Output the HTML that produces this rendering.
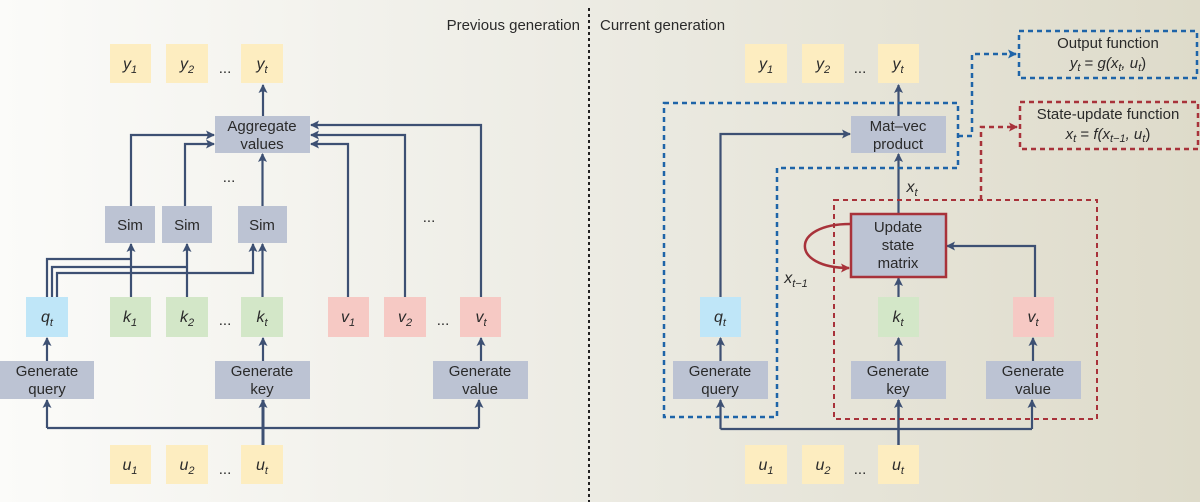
<!DOCTYPE html>
<html><head><meta charset="utf-8"><style>
html,body{margin:0;padding:0;}
body{width:1200px;height:502px;overflow:hidden;}
svg{display:block;}
text{font-family:"Liberation Sans",sans-serif;fill:#2a2a2a;}
.l{font-size:15px;text-anchor:middle;}
.i{font-style:italic;font-size:16px;text-anchor:middle;}
.s{font-size:11px;}
</style></head><body>
<svg width="1200" height="502" viewBox="0 0 1200 502" xmlns="http://www.w3.org/2000/svg">
<defs>
<linearGradient id="bg" x1="0" x2="1" y1="0" y2="0">
<stop offset="0" stop-color="#fbfbf9"/><stop offset="0.5" stop-color="#ecebe3"/><stop offset="1" stop-color="#dedbca"/>
</linearGradient>
<marker id="a" markerWidth="9" markerHeight="9" refX="8" refY="4.5" orient="auto" markerUnits="userSpaceOnUse"><path d="M0,0 L9,4.5 L0,9 L2,4.5 z" fill="#3d5073"/></marker>
<marker id="ar" markerWidth="9" markerHeight="9" refX="8" refY="4.5" orient="auto" markerUnits="userSpaceOnUse"><path d="M0,0 L9,4.5 L0,9 L2,4.5 z" fill="#a8323a"/></marker>
<marker id="ab" markerWidth="9" markerHeight="9" refX="8" refY="4.5" orient="auto" markerUnits="userSpaceOnUse"><path d="M0,0 L9,4.5 L0,9 L2,4.5 z" fill="#1e64a8"/></marker>
</defs>
<rect width="1200" height="502" fill="url(#bg)"/>
<line x1="589" y1="8" x2="589" y2="502" stroke="#222" stroke-width="2" stroke-dasharray="3,3"/>
<text x="580" y="30" style="font-size:15px;text-anchor:end">Previous generation</text>
<text x="600" y="30" style="font-size:15px">Current generation</text>

<g fill="#fdedc0">
<rect x="110" y="44" width="41" height="39"/><rect x="166" y="44" width="42" height="39"/><rect x="241" y="44" width="42" height="39"/>
<rect x="110" y="445" width="41" height="39"/><rect x="166" y="445" width="42" height="39"/><rect x="241" y="445" width="42" height="39"/>
<rect x="745" y="44" width="42" height="39"/><rect x="802" y="44" width="42" height="39"/><rect x="878" y="44" width="41" height="39"/>
<rect x="745" y="445" width="42" height="39"/><rect x="802" y="445" width="42" height="39"/><rect x="878" y="445" width="41" height="39"/>
</g>
<g fill="#bcc3d3">
<rect x="215" y="116" width="95" height="37"/>
<rect x="105" y="206" width="50" height="37"/><rect x="162" y="206" width="50" height="37"/><rect x="238" y="206" width="49" height="37"/>
<rect x="0" y="361" width="94" height="38"/><rect x="215" y="361" width="95" height="38"/><rect x="433" y="361" width="95" height="38"/>
<rect x="851" y="116" width="95" height="37"/>
<rect x="673" y="361" width="95" height="38"/><rect x="851" y="361" width="95" height="38"/><rect x="986" y="361" width="95" height="38"/>
</g>
<rect x="26" y="297" width="42" height="40" fill="#bfe6f8"/>
<rect x="700" y="297" width="41" height="40" fill="#bfe6f8"/>
<g fill="#d3e7c8"><rect x="110" y="297" width="41" height="40"/><rect x="166" y="297" width="42" height="40"/><rect x="241" y="297" width="42" height="40"/><rect x="878" y="297" width="41" height="40"/></g>
<g fill="#f6c9c4"><rect x="328" y="297" width="41" height="40"/><rect x="384" y="297" width="42" height="40"/><rect x="460" y="297" width="41" height="40"/><rect x="1013" y="297" width="41" height="40"/></g>

<g stroke="#3d5073" stroke-width="2.2" fill="none" marker-end="url(#a)">
<path d="M263 116 V85"/>
<path d="M131 206 V135 H214"/>
<path d="M185 206 V144 H214"/>
<path d="M262.5 206 V154"/>
<path d="M348 297 V144 H311"/>
<path d="M405 297 V135 H311"/>
<path d="M481 297 V125 H311"/>
<path d="M131 297 V244"/>
<path d="M187 297 V244"/>
<path d="M262.5 297 V244"/>
<path d="M47 297 V259 H131" marker-end="none"/>
<path d="M52 297 V267 H187" marker-end="none"/>
<path d="M57 297 V273 H253 V244"/>
<path d="M47 361 V338"/>
<path d="M263 361 V338"/>
<path d="M481 361 V338"/>
<path d="M47 428 H479" marker-end="none"/>
<path d="M47 428 V400"/>
<path d="M479 428 V400"/>
<path d="M263 445 V400" stroke-width="3"/>
<path d="M898.5 116 V85"/>
<path d="M898.5 213 V154"/>
<path d="M898.5 297 V278"/>
<path d="M720.5 297 V134 H850"/>
<path d="M1035 297 V246 H947"/>
<path d="M720.5 361 V338"/>
<path d="M898.5 361 V338"/>
<path d="M1033 361 V338"/>
<path d="M720.5 429 H1032" marker-end="none"/>
<path d="M720.5 429 V400"/>
<path d="M1032 429 V400"/>
<path d="M898.5 445 V400" stroke-width="2.5"/>
</g>

<path d="M664 103 H958 V168 H777 V417 H664 Z" fill="none" stroke="#1e64a8" stroke-width="2.5" stroke-dasharray="5,4"/>
<path d="M958 136 H972 V54 H1016" fill="none" stroke="#1e64a8" stroke-width="2.5" stroke-dasharray="5,4" marker-end="url(#ab)"/>
<rect x="1019" y="31" width="178" height="47" fill="none" stroke="#1e64a8" stroke-width="2.5" stroke-dasharray="5,4"/>
<rect x="834" y="200" width="263" height="219" fill="none" stroke="#a8323a" stroke-width="2" stroke-dasharray="5,4"/>
<path d="M981 200 V127 H1017" fill="none" stroke="#a8323a" stroke-width="2.5" stroke-dasharray="5,4" marker-end="url(#ar)"/>
<rect x="1020" y="102" width="178" height="47" fill="none" stroke="#a8323a" stroke-width="2.5" stroke-dasharray="5,4"/>
<rect x="851" y="214" width="95" height="63" fill="#bcc3d3" stroke="#a8323a" stroke-width="2.5"/>
<path d="M850 224 C790 224 790 268 849 268" fill="none" stroke="#a8323a" stroke-width="2.5" marker-end="url(#ar)"/>

<g class="l">
<text x="262" y="131">Aggregate</text><text x="262" y="149">values</text>
<text x="130" y="230">Sim</text><text x="187" y="230">Sim</text><text x="262" y="230">Sim</text>
<text x="47" y="376">Generate</text><text x="47" y="394">query</text>
<text x="262" y="376">Generate</text><text x="262" y="394">key</text>
<text x="480" y="376">Generate</text><text x="480" y="394">value</text>
<text x="898" y="131">Mat–vec</text><text x="898" y="149">product</text>
<text x="898" y="232">Update</text><text x="898" y="250">state</text><text x="898" y="268">matrix</text>
<text x="720" y="376">Generate</text><text x="720" y="394">query</text>
<text x="898" y="376">Generate</text><text x="898" y="394">key</text>
<text x="1033" y="376">Generate</text><text x="1033" y="394">value</text>
<text x="1108" y="48">Output function</text>
<text x="1108" y="119">State-update function</text>
<text x="225" y="73">...</text><text x="225" y="474">...</text><text x="225" y="325">...</text>
<text x="229" y="182">...</text><text x="429" y="222">...</text><text x="443" y="325">...</text>
<text x="860" y="73">...</text><text x="860" y="474">...</text>
</g>
<g class="i">
<text x="130" y="69">y<tspan class="s" dy="4">1</tspan></text>
<text x="187" y="69">y<tspan class="s" dy="4">2</tspan></text>
<text x="262" y="69">y<tspan class="s" dy="4">t</tspan></text>
<text x="130" y="470">u<tspan class="s" dy="4">1</tspan></text>
<text x="187" y="470">u<tspan class="s" dy="4">2</tspan></text>
<text x="262" y="470">u<tspan class="s" dy="4">t</tspan></text>
<text x="47" y="322">q<tspan class="s" dy="4">t</tspan></text>
<text x="130" y="322">k<tspan class="s" dy="4">1</tspan></text>
<text x="187" y="322">k<tspan class="s" dy="4">2</tspan></text>
<text x="262" y="322">k<tspan class="s" dy="4">t</tspan></text>
<text x="348" y="322">v<tspan class="s" dy="4">1</tspan></text>
<text x="405" y="322">v<tspan class="s" dy="4">2</tspan></text>
<text x="481" y="322">v<tspan class="s" dy="4">t</tspan></text>
<text x="766" y="69">y<tspan class="s" dy="4">1</tspan></text>
<text x="823" y="69">y<tspan class="s" dy="4">2</tspan></text>
<text x="898" y="69">y<tspan class="s" dy="4">t</tspan></text>
<text x="766" y="470">u<tspan class="s" dy="4">1</tspan></text>
<text x="823" y="470">u<tspan class="s" dy="4">2</tspan></text>
<text x="898" y="470">u<tspan class="s" dy="4">t</tspan></text>
<text x="720" y="322">q<tspan class="s" dy="4">t</tspan></text>
<text x="898" y="322">k<tspan class="s" dy="4">t</tspan></text>
<text x="1033" y="322">v<tspan class="s" dy="4">t</tspan></text>
<text x="912" y="192">x<tspan class="s" dy="4">t</tspan></text>
<text x="796" y="283">x<tspan class="s" dy="4">t−1</tspan></text>
<text x="1108" y="68" style="font-size:15px">y<tspan class="s" dy="3">t</tspan><tspan dy="-3" style="font-style:normal"> = </tspan>g(x<tspan class="s" dy="3">t</tspan><tspan dy="-3">, u</tspan><tspan class="s" dy="3">t</tspan><tspan dy="-3" style="font-style:normal">)</tspan></text>
<text x="1108" y="139" style="font-size:15px">x<tspan class="s" dy="3">t</tspan><tspan dy="-3" style="font-style:normal"> = </tspan>f(x<tspan class="s" dy="3">t−1</tspan><tspan dy="-3">, u</tspan><tspan class="s" dy="3">t</tspan><tspan dy="-3" style="font-style:normal">)</tspan></text>
</g>
</svg>
</body></html>
